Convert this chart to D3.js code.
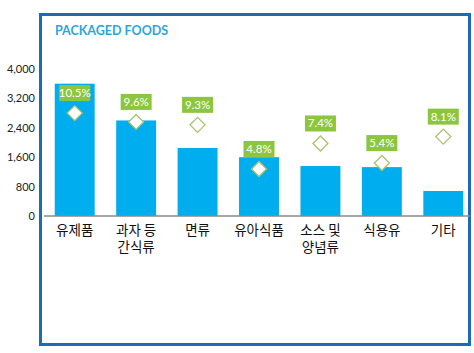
<!DOCTYPE html>
<html>
<head>
<meta charset="utf-8">
<script src="https://cdn.jsdelivr.net/npm/d3@7"></script>
<style>
  body { margin: 0; background: #fff; }
  svg { display: block; }
</style>
</head>
<body>
<div id="container"></div>
<script>
// data
var categories = ["유제품", "과자 등|간식류", "면류", "유아식품", "소스 및|양념류", "식용유", "기타"];
var sales = [3600, 2600, 1850, 1600, 1360, 1330, 680];
var growth = [10.5, 9.6, 9.3, 4.8, 7.4, 5.4, 8.1];
var yTicks = [0, 800, 1600, 2400, 3200, 4000];

var width = 474, height = 353;

var svg = d3.select("#container").append("svg")
    .attr("width", width)
    .attr("height", height);

// frame
svg.append("rect")
    .attr("x", 40.5).attr("y", 14.5)
    .attr("width", 429).attr("height", 330)
    .attr("fill", "none")
    .attr("stroke", "#1c6bb5")
    .attr("stroke-width", 3);

svg.append("text")
    .attr("x", 55).attr("y", 35)
    .attr("font-family", "Lato, 'Open Sans', sans-serif")
    .attr("font-weight", "bold")
    .attr("font-size", 12.5)
    .attr("fill", "#2aa6df")
    .text("PACKAGED FOODS");

var x = d3.scaleBand()
    .domain(categories)
    .range([44, 474])
    .paddingInner(0.35)
    .paddingOuter(0.175);

var y = d3.scaleLinear().domain([0, 4000]).range([216, 69]);
var y2 = d3.scaleLinear().domain([0, 15]).range([216, 69]);

// y axis labels
var yAxis = d3.axisLeft(y).tickValues(yTicks).tickSize(0).tickPadding(0)
    .tickFormat(d3.format(","));
var yg = svg.append("g").attr("transform", "translate(35,0)").call(yAxis);
yg.select(".domain").remove();
yg.selectAll("text")
    .attr("font-family", "Lato, 'Open Sans', sans-serif")
    .attr("font-size", 11)
    .attr("fill", "#222");

// bars
svg.selectAll("rect.bar")
    .data(sales)
    .enter().append("rect")
    .attr("class", "bar")
    .attr("x", function(d, i) { return x(categories[i]); })
    .attr("y", function(d) { return y(d); })
    .attr("width", x.bandwidth())
    .attr("height", function(d) { return y(0) - y(d); })
    .attr("fill", "#00adef");

// baseline
svg.append("line")
    .attr("x1", 44).attr("x2", 470)
    .attr("y1", y(0)).attr("y2", y(0))
    .attr("stroke", "#8a8a8a")
    .attr("stroke-width", 1.5);

// x labels, one text per line
categories.forEach(function(c) {
    c.split("|").forEach(function(l, k) {
        svg.append("text")
            .attr("class", "xlab")
            .attr("x", x(c) + x.bandwidth() / 2)
            .attr("y", 235 + k * 17)
            .attr("text-anchor", "middle")
            .attr("font-family", "'Noto Sans CJK KR', sans-serif")
            .attr("font-size", 13.5)
            .attr("fill", "#111")
            .text(l);
    });
});

// diamonds + labels
var g = svg.selectAll("g.pt")
    .data(growth)
    .enter().append("g")
    .attr("class", "pt")
    .attr("transform", function(d, i) {
        return "translate(" + (x(categories[i]) + x.bandwidth() / 2) + "," + y2(d) + ")";
    });

g.append("path")
    .attr("d", "M0,-7.5L7.5,0L0,7.5L-7.5,0Z")
    .attr("fill", "#fff")
    .attr("stroke", "#a6c36a")
    .attr("stroke-width", 1.3);

g.append("rect")
    .attr("x", -15.5).attr("y", -28)
    .attr("width", 31).attr("height", 16)
    .attr("fill", "#8cc63f");

g.append("text")
    .attr("y", -16)
    .attr("text-anchor", "middle")
    .attr("font-family", "Lato, 'Open Sans', sans-serif")
    .attr("font-size", 11.5)
    .attr("fill", "#fff")
    .text(function(d) { return d.toFixed(1) + "%"; });
</script>
</body>
</html>
